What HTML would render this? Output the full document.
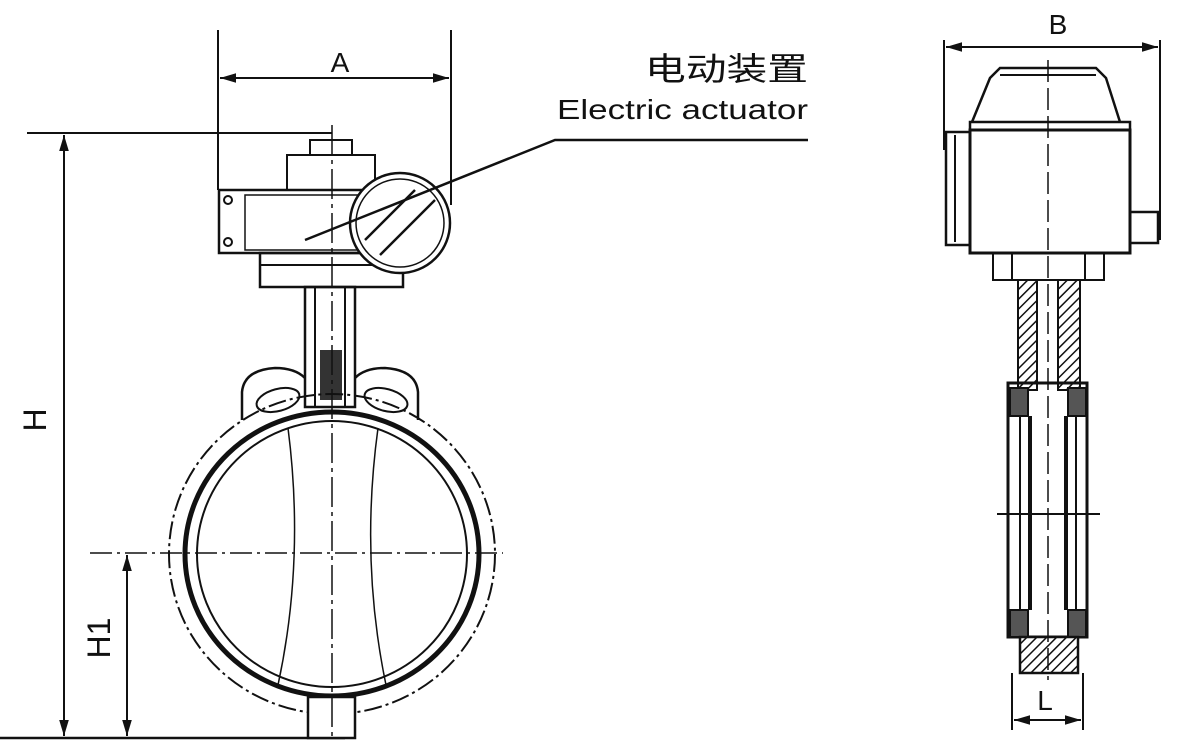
<!DOCTYPE html>
<html><head><meta charset="utf-8"><style>
html,body{margin:0;padding:0;background:#fff;}
svg{display:block;}
text{font-family:"Liberation Sans","Noto Sans CJK SC",sans-serif;fill:#111;}
</style></head><body>
<svg width="1186" height="750" viewBox="0 0 1186 750" xmlns="http://www.w3.org/2000/svg">
<defs>
<marker id="ar" viewBox="0 0 10 10" refX="10" refY="5" markerWidth="8" markerHeight="8" orient="auto-start-reverse"><path d="M0,2 L10,5 L0,8 z" fill="#111"/></marker>
<pattern id="hat" width="7" height="7" patternUnits="userSpaceOnUse" patternTransform="rotate(45)"><rect width="7" height="7" fill="#fff"/><line x1="0" y1="0" x2="0" y2="7" stroke="#111" stroke-width="3"/></pattern>
</defs>
<g stroke="#111" fill="none" stroke-width="2">
<line x1="218" y1="30" x2="218" y2="190"/>
<line x1="451" y1="30" x2="451" y2="205"/>
<line x1="220" y1="78" x2="449" y2="78" marker-start="url(#ar)" marker-end="url(#ar)"/>
<line x1="27" y1="133" x2="332" y2="133"/>
<line x1="0" y1="738" x2="345" y2="738" stroke-width="2.5"/>
<line x1="64" y1="135" x2="64" y2="736" marker-start="url(#ar)" marker-end="url(#ar)"/>
<line x1="127" y1="555" x2="127" y2="736" marker-start="url(#ar)" marker-end="url(#ar)"/>
<rect x="310" y="140" width="42" height="15"/>
<rect x="287" y="155" width="88" height="35"/>
<rect x="219" y="190" width="200" height="63" stroke-width="2.5"/>
<rect x="245" y="195" width="170" height="55" stroke-width="1.5"/>
<circle cx="228" cy="200" r="4"/><circle cx="228" cy="242" r="4"/>
<rect x="260" y="253" width="143" height="34" stroke-width="2.5"/>
<line x1="260" y1="265" x2="403" y2="265"/>
<circle cx="400" cy="223" r="50" fill="#fff" stroke-width="2.5"/>
<circle cx="400" cy="223" r="44" stroke-width="1.5"/>
<line x1="365" y1="240" x2="415" y2="190" stroke-width="2.5"/>
<line x1="380" y1="255" x2="435" y2="200" stroke-width="2.5"/>
<polyline points="305,240 555,140 808,140" stroke-width="2.5"/>
<rect x="305" y="287" width="50" height="120" stroke-width="2.5"/>
<line x1="315" y1="287" x2="315" y2="407"/><line x1="345" y1="287" x2="345" y2="407"/>
<rect x="320" y="350" width="22" height="50" fill="#333" stroke="none"/>
<path d="M242,420 L242,392 Q244,370 275,368 Q295,368 305,378 M355,378 Q365,368 385,368 Q416,370 418,392 L418,420" stroke-width="2.5"/>
<ellipse cx="278" cy="400" rx="22" ry="11" transform="rotate(-15 278 400)"/>
<ellipse cx="386" cy="400" rx="22" ry="11" transform="rotate(15 386 400)"/>
<ellipse cx="332" cy="554" rx="163" ry="160" stroke-dasharray="18,4,3,4"/>
<ellipse cx="332" cy="554" rx="147" ry="142" stroke-width="5"/>
<ellipse cx="332" cy="554" rx="135" ry="133"/>
<path d="M288,428 Q305,560 278,685 M378,428 Q360,560 386,685" stroke-width="1.5"/>
<rect x="308" y="697" width="47" height="41" fill="#fff" stroke-width="2.5"/>
<line x1="90" y1="553" x2="503" y2="553" stroke-dasharray="22,5,3,5" stroke-width="1.5"/>
<line x1="332" y1="125" x2="332" y2="740" stroke-dasharray="30,5,4,5" stroke-width="1.5"/>
<line x1="944" y1="40" x2="944" y2="150"/>
<line x1="1160" y1="40" x2="1160" y2="240"/>
<line x1="946" y1="47" x2="1158" y2="47" marker-start="url(#ar)" marker-end="url(#ar)"/>
<path d="M972,122 L990,78 L1000,68 L1096,68 L1106,78 L1120,122" stroke-width="2.5"/>
<line x1="1000" y1="75" x2="1096" y2="75"/>
<rect x="970" y="122" width="160" height="8" stroke-width="2.5"/>
<rect x="970" y="130" width="160" height="123" stroke-width="3"/>
<rect x="946" y="132" width="24" height="113" stroke-width="2.5"/>
<line x1="955" y1="135" x2="955" y2="242"/>
<rect x="1130" y="212" width="28" height="31" stroke-width="2.5"/>
<rect x="993" y="253" width="19" height="27"/>
<rect x="1085" y="253" width="19" height="27"/>
<rect x="1012" y="253" width="73" height="27"/>
<rect x="1018" y="280" width="19" height="110" fill="url(#hat)"/>
<rect x="1058" y="280" width="22" height="110" fill="url(#hat)"/>
<rect x="1008" y="383" width="79" height="254" stroke-width="3"/>
<rect x="1010" y="388" width="18" height="28" fill="#555"/>
<rect x="1068" y="388" width="18" height="28" fill="#555"/>
<rect x="1010" y="610" width="18" height="27" fill="#555"/>
<rect x="1068" y="610" width="18" height="27" fill="#555"/>
<line x1="1020" y1="416" x2="1020" y2="610"/><line x1="1030" y1="416" x2="1030" y2="610" stroke-width="4"/>
<line x1="1066" y1="416" x2="1066" y2="610" stroke-width="4"/><line x1="1076" y1="416" x2="1076" y2="610"/>
<rect x="1020" y="637" width="58" height="36" fill="url(#hat)" stroke-width="2.5"/>
<line x1="1048" y1="60" x2="1048" y2="680" stroke-dasharray="22,6" stroke-width="1.5"/>
<line x1="997" y1="514" x2="1100" y2="514"/>
<line x1="1012" y1="673" x2="1012" y2="730"/><line x1="1083" y1="673" x2="1083" y2="730"/>
<line x1="1014" y1="720" x2="1081" y2="720" marker-start="url(#ar)" marker-end="url(#ar)"/>
</g>
<text x="340" y="72" font-size="28" text-anchor="middle">A</text>
<text x="1058" y="34" font-size="28" text-anchor="middle">B</text>
<text x="1045" y="710" font-size="28" text-anchor="middle">L</text>
<text x="645" y="80" font-size="32" textLength="163" lengthAdjust="spacingAndGlyphs">电动装置</text>
<text x="557" y="119" font-size="28" textLength="251" lengthAdjust="spacingAndGlyphs">Electric actuator</text>
<text transform="translate(46,420) rotate(-90)" font-size="32" text-anchor="middle">H</text>
<text transform="translate(110,638) rotate(-90)" font-size="32" text-anchor="middle">H1</text>
</svg>
</body></html>
